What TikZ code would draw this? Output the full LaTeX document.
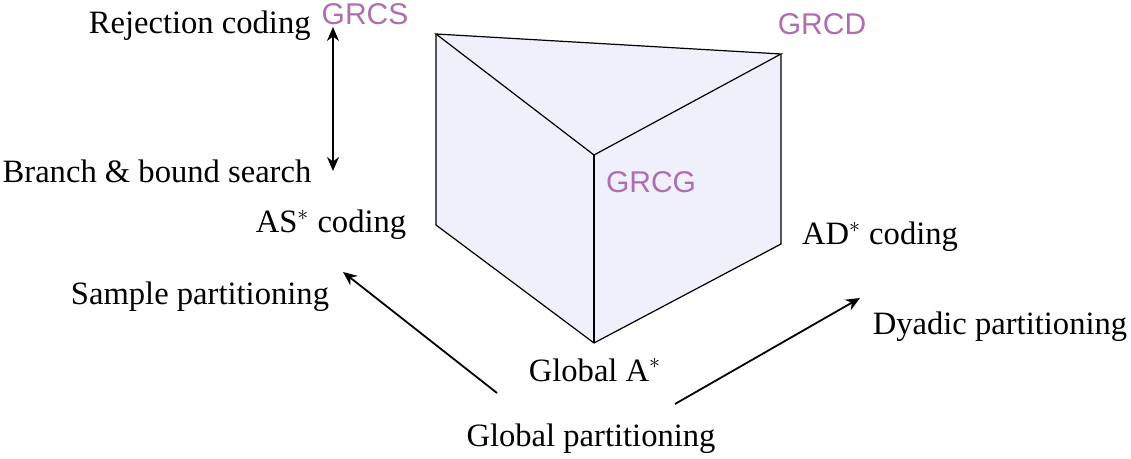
\documentclass[tikz,border=0pt]{standalone}
\usepackage{fontspec}
\setmainfont{Liberation Serif}
\newfontfamily\grcfont{Liberation Sans}
\usetikzlibrary{arrows.meta}
\definecolor{grc}{RGB}{176,110,176}
\definecolor{face}{RGB}{240,240,252}
\begin{document}
\begin{tikzpicture}[x=0.5pt,y=-0.5pt,
  lbl/.style={font=\fontsize{16.3}{19}\selectfont, inner sep=0pt},
  grclbl/.style={font=\grcfont\fontsize{15}{18}\selectfont, text=grc, inner sep=0pt},
  arr/.style={-{Stealth[length=7pt,width=6pt]}, line width=0.9pt}]
\useasboundingbox (0,0) rectangle (1131,459);
\coordinate (S) at (436,34);
\coordinate (D) at (781,54);
\coordinate (G) at (594,155);
\coordinate (Sb) at (436,225);
\coordinate (Db) at (781,244);
\coordinate (Gb) at (594,343);
\fill[face] (S) -- (D) -- (Db) -- (Gb) -- (Sb) -- cycle;
\draw[line width=0.6pt] (S) -- (D) -- (G) -- cycle;
\draw[line width=0.6pt] (S) -- (Sb) -- (Gb) -- (Db) -- (D);
\draw[line width=0.6pt] (G) -- (Gb);
\node[grclbl] (grcs) at (365,14) {GRCS};
\node[grclbl] (grcd) at (822,24) {GRCD};
\node[grclbl] (grcg) at (651,182) {GRCG};
\node[lbl, anchor=east] (rej) at (311,26) {Rejection coding};
\node[lbl] (bb) at (157,171) {Branch \& bound search};
\coordinate (ta) at (333,27);
\coordinate (tb) at (333,171);
\draw[{Stealth[length=7pt,width=6pt]}-{Stealth[length=7pt,width=6pt]}, line width=0.9pt] (ta) -- (tb);
\node[lbl] (as) at (331,225) {AS$^*$ coding};
\node[lbl] (ad) at (880,237) {AD$^*$ coding};
\node[lbl] (sp) at (200,297) {Sample partitioning};
\node[lbl] (dp) at (1000,327) {Dyadic partitioning};
\node[lbl] (ga) at (595,370) {Global A$^*$};
\node[lbl] (gp) at (591,439) {Global partitioning};
\coordinate (a1s) at (497,393);
\coordinate (a1e) at (343,272);
\coordinate (a2s) at (675,404);
\coordinate (a2e) at (860,298);
\draw[arr] (a1s) -- (a1e);
\draw[arr] (a2s) -- (a2e);
\end{tikzpicture}
\end{document}
